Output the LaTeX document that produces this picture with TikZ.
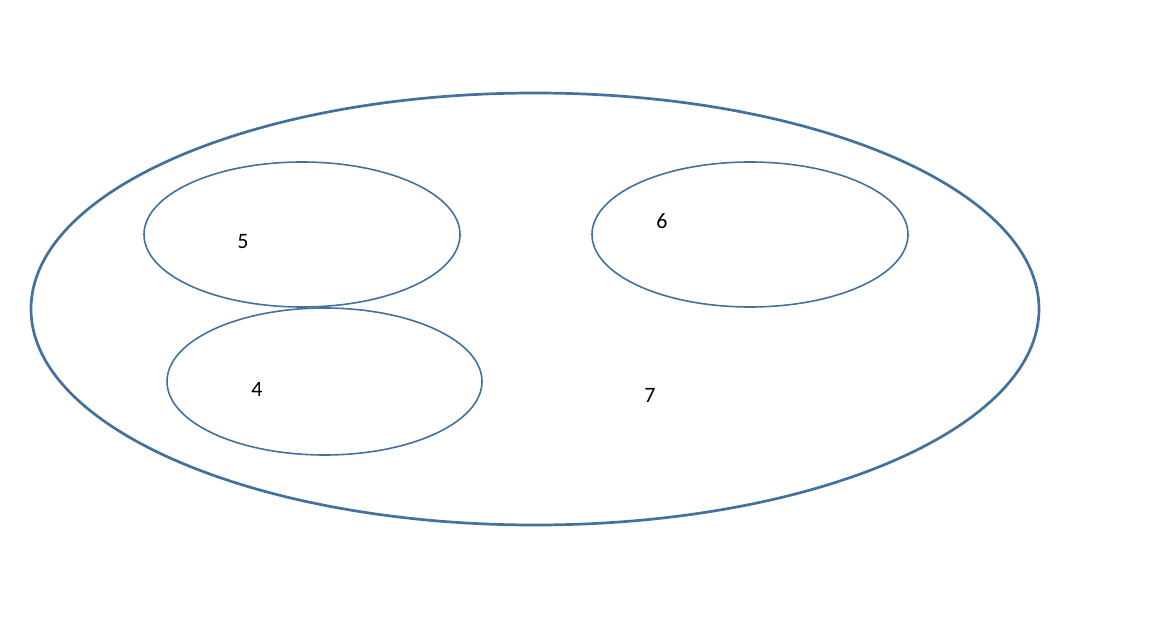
\documentclass[tikz,border=0pt]{standalone}
\usepackage{fontspec}
\setmainfont{Carlito}
\definecolor{setblue}{HTML}{41719C}
\begin{document}
\begin{tikzpicture}[x=1pt,y=-1pt,
  outer/.style={draw=setblue,line width=2.7pt},
  inner/.style={draw=setblue,line width=1.6pt},
  lbl/.style={font=\fontsize{22}{25}\selectfont,inner sep=0pt}]
\useasboundingbox (0,0) rectangle (1160,644);
\draw[outer] (535,309) ellipse [x radius=504, y radius=216];
\draw[inner] (302,234.5) ellipse [x radius=158, y radius=72.5];
\draw[inner] (750,234.5) ellipse [x radius=158, y radius=72.5];
\draw[inner] (324.5,381.5) ellipse [x radius=157.5, y radius=73.5];
\node[lbl] (l5) at (243,241.5) {5};
\node[lbl] (l6) at (662,221.5) {6};
\node[lbl] (l4) at (257,389.5) {4};
\node[lbl] (l7) at (650,395.5) {7};
\end{tikzpicture}
\end{document}
